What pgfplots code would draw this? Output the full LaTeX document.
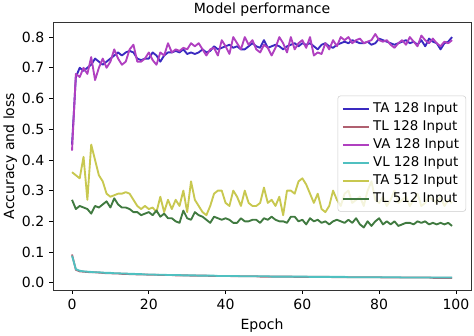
\documentclass[border=0pt]{standalone}
\usepackage{fontspec}
\setmainfont{DejaVu Sans}
\usepackage{pgfplots}
\usepackage{pgfplotstable}
\pgfplotsset{compat=1.18}
\definecolor{cTA}{HTML}{3A2AC0}
\definecolor{cTL}{HTML}{B06070}
\definecolor{cVA}{HTML}{B040C0}
\definecolor{cVL}{HTML}{50C0C0}
\definecolor{cTB}{HTML}{C8C850}
\definecolor{cLB}{HTML}{407A40}
\pgfplotstableread{
x ta128 tl128 va128 vl128 ta512 tl512
0 0.45 0.092 0.43 0.088 0.36 0.27
1 0.67 0.042 0.68 0.044 0.35 0.24
2 0.70 0.037 0.67 0.039 0.34 0.25
3 0.69 0.036 0.70 0.037 0.41 0.245
4 0.70 0.035 0.68 0.036 0.27 0.24
5 0.71 0.034 0.735 0.035 0.45 0.225
6 0.73 0.034 0.66 0.034 0.40 0.25
7 0.72 0.033 0.70 0.034 0.35 0.245
8 0.71 0.032 0.73 0.033 0.33 0.255
9 0.72 0.031 0.70 0.032 0.29 0.265
10 0.73 0.031 0.72 0.032 0.28 0.245
11 0.74 0.030 0.76 0.031 0.285 0.275
12 0.75 0.030 0.73 0.031 0.29 0.255
13 0.74 0.029 0.71 0.030 0.29 0.245
14 0.75 0.029 0.72 0.030 0.295 0.245
15 0.755 0.028 0.76 0.029 0.29 0.24
16 0.75 0.028 0.775 0.029 0.27 0.23
17 0.73 0.027 0.72 0.028 0.25 0.23
18 0.725 0.027 0.72 0.028 0.24 0.22
19 0.73 0.027 0.73 0.027 0.25 0.225
20 0.73 0.026 0.75 0.027 0.24 0.23
21 0.75 0.026 0.725 0.027 0.245 0.22
22 0.74 0.026 0.71 0.026 0.23 0.235
23 0.72 0.025 0.75 0.026 0.28 0.215
24 0.74 0.025 0.74 0.026 0.23 0.225
25 0.75 0.025 0.78 0.025 0.27 0.21
26 0.75 0.025 0.75 0.025 0.24 0.21
27 0.755 0.024 0.76 0.025 0.27 0.20
28 0.75 0.024 0.755 0.025 0.25 0.195
29 0.76 0.024 0.765 0.024 0.30 0.235
30 0.745 0.024 0.76 0.024 0.23 0.21
31 0.75 0.023 0.78 0.024 0.33 0.205
32 0.745 0.023 0.77 0.024 0.27 0.23
33 0.75 0.023 0.78 0.023 0.25 0.22
34 0.76 0.023 0.76 0.023 0.23 0.215
35 0.75 0.023 0.74 0.023 0.22 0.205
36 0.755 0.022 0.76 0.023 0.25 0.195
37 0.77 0.022 0.765 0.023 0.29 0.215
38 0.76 0.022 0.74 0.022 0.30 0.21
39 0.765 0.022 0.79 0.022 0.30 0.205
40 0.77 0.022 0.77 0.022 0.26 0.21
41 0.775 0.022 0.745 0.022 0.25 0.205
42 0.765 0.021 0.80 0.022 0.30 0.195
43 0.77 0.021 0.78 0.022 0.28 0.195
44 0.76 0.021 0.76 0.021 0.25 0.21
45 0.76 0.021 0.80 0.021 0.30 0.20
46 0.77 0.021 0.775 0.021 0.26 0.20
47 0.78 0.021 0.79 0.021 0.25 0.205
48 0.77 0.021 0.76 0.021 0.25 0.205
49 0.765 0.020 0.75 0.021 0.26 0.195
50 0.79 0.020 0.775 0.021 0.31 0.21
51 0.765 0.020 0.765 0.021 0.26 0.205
52 0.77 0.020 0.74 0.020 0.27 0.215
53 0.775 0.020 0.765 0.020 0.25 0.205
54 0.77 0.020 0.80 0.020 0.28 0.20
55 0.76 0.020 0.78 0.020 0.22 0.20
56 0.77 0.020 0.75 0.020 0.30 0.195
57 0.775 0.020 0.80 0.020 0.30 0.215
58 0.78 0.019 0.76 0.020 0.29 0.215
59 0.77 0.019 0.78 0.020 0.33 0.20
60 0.78 0.019 0.79 0.020 0.34 0.205
61 0.775 0.019 0.765 0.020 0.32 0.19
62 0.78 0.019 0.80 0.019 0.29 0.21
63 0.77 0.019 0.74 0.019 0.26 0.20
64 0.76 0.019 0.75 0.019 0.29 0.205
65 0.775 0.019 0.745 0.019 0.24 0.195
66 0.78 0.019 0.78 0.019 0.23 0.20
67 0.77 0.019 0.76 0.019 0.25 0.19
68 0.765 0.018 0.79 0.019 0.30 0.20
69 0.775 0.018 0.77 0.019 0.27 0.205
70 0.78 0.018 0.80 0.019 0.25 0.20
71 0.785 0.018 0.79 0.019 0.29 0.195
72 0.78 0.018 0.80 0.018 0.30 0.205
73 0.79 0.018 0.78 0.018 0.26 0.195
74 0.785 0.018 0.79 0.018 0.27 0.21
75 0.78 0.018 0.795 0.018 0.28 0.19
76 0.78 0.018 0.78 0.018 0.25 0.18
77 0.785 0.018 0.785 0.018 0.30 0.20
78 0.775 0.018 0.79 0.018 0.33 0.185
79 0.78 0.018 0.81 0.018 0.27 0.20
80 0.795 0.018 0.79 0.018 0.26 0.21
81 0.79 0.017 0.785 0.018 0.28 0.19
82 0.785 0.017 0.79 0.018 0.25 0.20
83 0.78 0.017 0.775 0.018 0.27 0.19
84 0.775 0.017 0.765 0.018 0.30 0.20
85 0.78 0.017 0.78 0.018 0.26 0.185
86 0.785 0.017 0.79 0.017 0.27 0.19
87 0.79 0.017 0.775 0.017 0.28 0.195
88 0.78 0.017 0.80 0.017 0.25 0.195
89 0.785 0.017 0.785 0.017 0.27 0.19
90 0.775 0.017 0.77 0.017 0.29 0.20
91 0.79 0.017 0.805 0.017 0.25 0.195
92 0.77 0.017 0.79 0.017 0.26 0.20
93 0.795 0.017 0.78 0.017 0.28 0.19
94 0.785 0.016 0.795 0.017 0.27 0.195
95 0.78 0.016 0.78 0.017 0.26 0.19
96 0.76 0.016 0.77 0.017 0.28 0.195
97 0.78 0.016 0.785 0.017 0.25 0.19
98 0.785 0.016 0.78 0.017 0.27 0.195
99 0.80 0.016 0.79 0.017 0.26 0.185
}\perf
\begin{document}
\begin{tikzpicture}
\begin{axis}[
  scale only axis, width=313pt, height=200.7pt,
  xmin=-4.95, xmax=103.95, ymin=-0.024, ymax=0.849,
  xtick={0,20,40,60,80,100},
  ytick={0,0.1,0.2,0.3,0.4,0.5,0.6,0.7,0.8},
  yticklabel style={/pgf/number format/.cd, fixed, fixed zerofill, precision=1},
  /pgf/number format/assume math mode=true,
  tick align=outside, major tick length=3pt,
  tick style={black, line width=0.6pt},
  xtick pos=bottom, ytick pos=left,
  axis line style={line width=0.6pt, black!80},
  ticklabel style={font=\fontsize{10.5}{12}\selectfont},
  every axis title shift=0pt,
  title={Model performance},
  title style={at={(axis description cs:0.5,1.0334)}, anchor=base, inner sep=0pt, font=\fontsize{10.5}{12}\selectfont},
  xlabel={Epoch},
  xlabel style={at={(axis description cs:0.5,-0.1455)}, anchor=base, inner sep=0pt, font=\fontsize{10.5}{12}\selectfont},
  ylabel={Accuracy and loss},
  ylabel style={at={(axis description cs:-0.0933,0.5)}, anchor=base, rotate=0, inner sep=0pt, font=\fontsize{10.5}{12}\selectfont},
  legend style={at={(axis description cs:0.988,0.509)}, anchor=east, draw=black!20, rounded corners=2pt, fill=white, fill opacity=0.8, text opacity=1, font=\fontsize{10}{12}\selectfont, row sep=0.6pt, inner sep=3pt},
  legend cell align=left,
  legend image code/.code={\draw[#1, line width=1.5pt] (0cm,0cm) -- (0.7cm,0cm);},
  every axis plot/.append style={line width=1.4pt, line join=round},
]
\addplot[cTA] table[x=x, y=ta128] {\perf};
\addlegendentry{TA 128 Input}
\addplot[cTL] table[x=x, y=tl128] {\perf};
\addlegendentry{TL 128 Input}
\addplot[cVA] table[x=x, y=va128] {\perf};
\addlegendentry{VA 128 Input}
\addplot[cVL] table[x=x, y=vl128] {\perf};
\addlegendentry{VL 128 Input}
\addplot[cTB] table[x=x, y=ta512] {\perf};
\addlegendentry{TA 512 Input}
\addplot[cLB] table[x=x, y=tl512] {\perf};
\addlegendentry{TL 512 Input}
\coordinate (bl) at (rel axis cs:0,0);
\coordinate (tr) at (rel axis cs:1,1);
\end{axis}
\pgfresetboundingbox
\path ([shift={(-39.7pt,-33.7pt)}]bl) rectangle ([shift={(2.2pt,16.5pt)}]tr);
\end{tikzpicture}
\end{document}
